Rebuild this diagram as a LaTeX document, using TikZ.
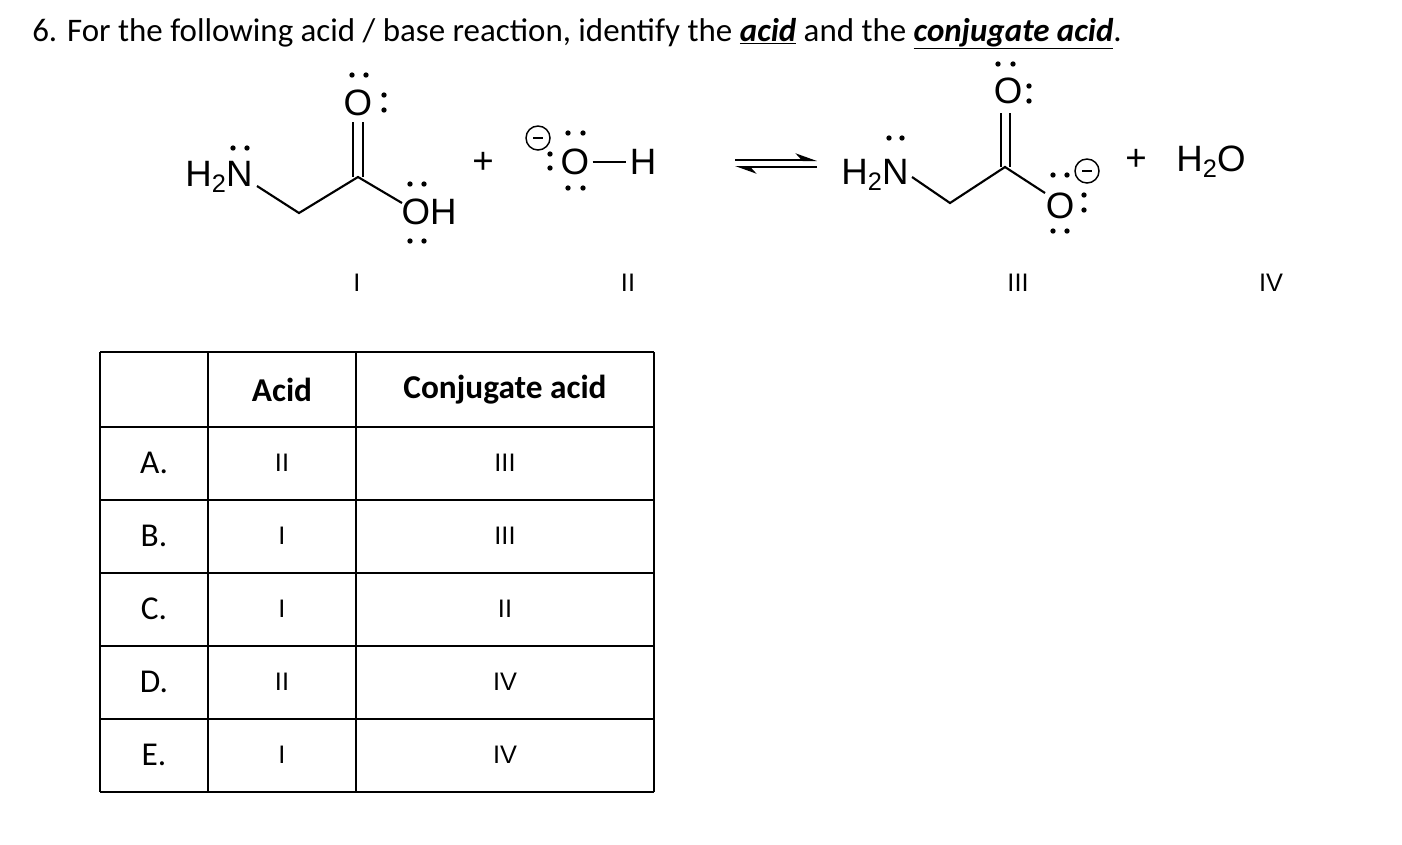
\documentclass[tikz,border=0pt]{standalone}
\usepackage{fontspec}
\setmainfont{Carlito}
\newfontfamily\arialf{Liberation Sans}
\usetikzlibrary{arrows.meta}
\newcommand{\chsub}[1]{\raisebox{-0.3ex}{\fontsize{19}{19}\selectfont #1}}
\tikzset{
 chem/.style={font=\arialf\fontsize{27.5}{27.5}\selectfont, inner sep=0pt},
 rom/.style={font=\arialf\fontsize{19}{19}\selectfont, inner sep=0pt},
 tb/.style={font=\fontsize{25}{25}\selectfont, inner sep=0pt},
 bond/.style={line width=1.6pt},
 grid/.style={line width=1.8pt},
}
\newcommand{\dt}[1]{\fill #1 circle (2pt);}
\newcommand{\mincirc}[1]{\draw[line width=1.1pt] #1 circle (9pt); \draw[line width=1.1pt] #1 ++(-5,0) -- ++(10,0);}
\begin{document}
\begin{tikzpicture}[x=0.75pt,y=-0.75pt]
\useasboundingbox (0,0) rectangle (1402,844);
% title
\node[anchor=base west, inner sep=0pt, font=\fontsize{24.7}{24.7}\selectfont] (title) at (32,41)
 {6. For the following acid / base reaction, identify the \underline{\textbf{\textit{acid}}} and the \underline{\textbf{\textit{conjugate acid}}}.};
% left molecule
\node[chem] (n1) at (219,177) {H\chsub{2}N};
\coordinate (c1) at (299,213); \coordinate (c2) at (358,177);
\node[chem] (o1) at (358,103) {O};
\node[chem] (oh) at (429,212) {OH};
\draw[bond] (257,186) -- (c1) -- (c2) -- (402,203);
\draw[bond] (353,122) -- (353,177);
\draw[bond] (363,122) -- (363,177);
\dt{(233,148)}\dt{(247,148)}
\dt{(352,75)}\dt{(366,75)}\dt{(384,95)}\dt{(384,110)}
\dt{(410,184)}\dt{(424,184)}\dt{(410,241)}\dt{(424,241)}
\node[chem] (p1) at (483,163) {+};
% hydroxide
\node[chem] (o2) at (575,162) {O};
\node[chem] (h2) at (643,162) {H};
\draw[bond] (o2.east) ++(3,0) -- ([xshift=-3]h2.west);
\mincirc{(538,138)}
\dt{(568,133)}\dt{(583,133)}\dt{(568,188)}\dt{(583,188)}\dt{(550,154)}\dt{(550,168)}
% equilibrium arrows
\coordinate (a1) at (735,160); \coordinate (a2) at (817,160);
\coordinate (a3) at (735,167); \coordinate (a4) at (817,167);
\draw[line width=1.5pt, -{Stealth[left,length=14pt,width=10pt]}] (a1) -- (a2);
\draw[line width=1.5pt, -{Stealth[left,length=14pt,width=10pt]}] (a4) -- (a3);
% right molecule
\node[chem] (n3) at (875,175) {H\chsub{2}N};
\coordinate (c3) at (950,203); \coordinate (c4) at (1005,167);
\node[chem] (o3) at (1008,91) {O};
\node[chem] (o4) at (1060,206) {O};
\draw[bond] (912,177) -- (c3) -- (c4) -- (1045,193);
\draw[bond] (1001,113) -- (1001,167);
\draw[bond] (1010,113) -- (1010,167);
\dt{(889,138)}\dt{(902,138)}
\dt{(998,64)}\dt{(1013,64)}\dt{(1029,86)}\dt{(1029,101)}
\dt{(1053,175)}\dt{(1067,175)}\dt{(1053,231)}\dt{(1067,231)}\dt{(1084,195)}\dt{(1084,210)}
\mincirc{(1087,171)}
\node[chem] (p2) at (1136,160) {+};
\node[chem] (w) at (1211,162) {H\chsub{2}O};
% roman labels
\node[rom] (r1) at (357,283) {I};
\node[rom] (r2) at (628,283) {II};
\node[rom] (r3) at (1018,283) {III};
\node[rom] (r4) at (1271,283) {IV};
% table
\foreach \yy in {352,427,500,573,646,719,792} \draw[grid] (100,\yy) -- (654,\yy);
\foreach \xx in {100,208,356,654} \draw[grid] (\xx,352) -- (\xx,792);
\node[tb,font=\bfseries\fontsize{25}{25}\selectfont] (hA) at (282,390) {Acid};
\node[tb,font=\bfseries\fontsize{25}{25}\selectfont] (hC) at (505,390) {Conjugate acid};
\foreach \yy/\l/\a/\c in {463/A./II/III, 536/B./I/III, 609/C./I/II, 682/D./II/IV, 755/E./I/IV}{
 \node[tb] at (154,\yy) {\l};
 \node[rom] at (282,\yy) {\a};
 \node[rom] at (505,\yy) {\c};
}
\end{tikzpicture}
\end{document}
